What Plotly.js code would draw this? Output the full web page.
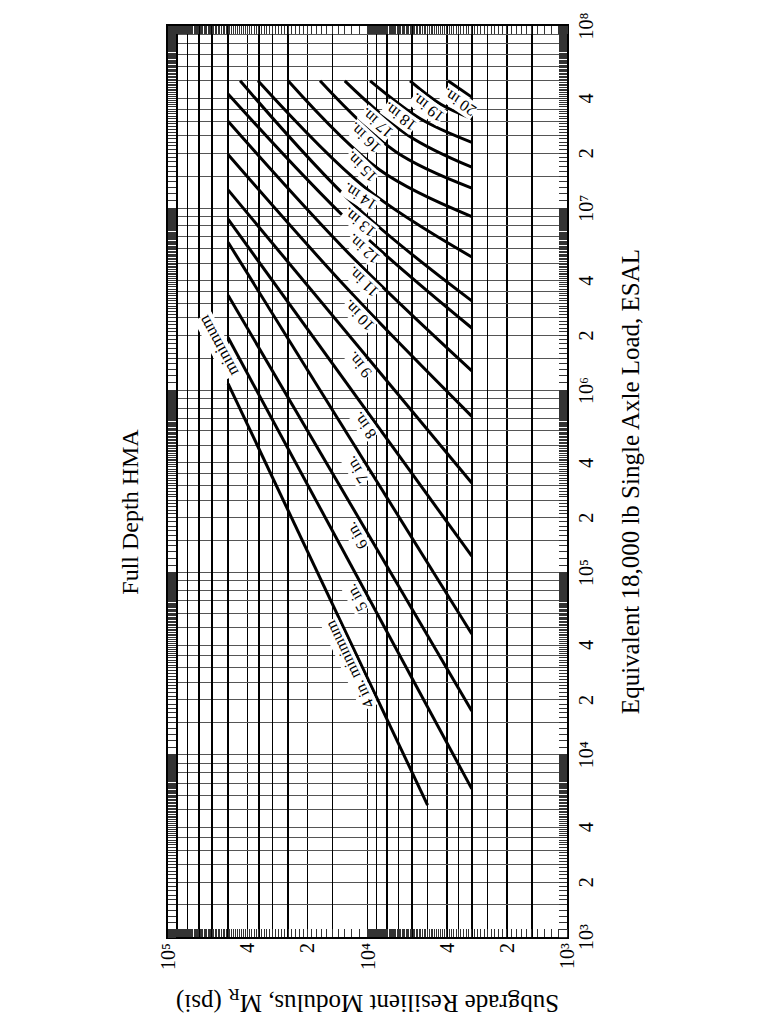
<!DOCTYPE html>
<html><head><meta charset="utf-8">
<script src="https://cdn.plot.ly/plotly-3.0.1.min.js"></script>
<style>
html,body{margin:0;padding:0;width:768px;height:1024px;overflow:hidden;background:#fff;}
#chart{position:absolute;left:0;top:0;width:1024px;height:768px;transform-origin:0 0;transform:translateY(1024px) rotate(-90deg);}
</style></head><body><div id="chart"></div>
<script>
// ---- data ----
const thicknessLabels = ["4 in. minimum","5 in.","6 in.","7 in.","8 in.","9 in.","10 in.","11 in.","12 in.","13 in.","14 in.","15 in.","16 in.","17 in.","18 in.","19 in.","20 in."];
// subgrade modulus (psi) along each thickness line (high-modulus end first)
const lineMR = [
  [50000,5000],[50000,3000],[50000,3000],[50000,3000],[50000,3000],[50000,3000],
  [50000,12340,3000],[50000,12340,3000],[50000,12340,3000],[43500,11450,3000],
  [35400,10320,3000],[25000,8677,3000],[17300,7215,3000],[13000,6245,3000],
  [9700,5405,3000],[6120,4291,3000],[3950,3000]
];
// ESAL along each thickness line (same order)
const lineESAL = [
  [1.09e6,5.3e3],[1.95e6,6.5e3],[3.33e6,1.74e4],[6.5e6,4.6e4],[8.7e6,1.23e5],[1.26e7,3.1e5],
  [1.97e7,3.52e6,7.2e5],[3.0e7,5.61e6,1.28e6],[4.23e7,8.41e6,2.2e6],[5e7,1.025e7,3.1e6],
  [5e7,1.30e7,5.4e6],[5e7,1.62e7,9e6],[5e7,2.04e7,1.29e7],[5e7,2.51e7,1.68e7],
  [5e7,3.09e7,2.3e7],[5e7,3.72e7,3.1e7],[5e7,4.07e7]
];
// modulus at which each label sits on its line
const labelMR = [11030,10170,10170,10170,9385,9940,10170,9717,9605,10170,10170,9829,9493,8265,6412,4642,3208];
const extraLabelText = "minimum";
const extraLabelMR = 56100;
const extraLabelESAL = 1.75e6;
// axis ticks
const gridMultipliers = [1,1.5,2,2.5,3,3.5,4,5,6,7,8,9];
const labeledMultipliers = [1,2,4];
const esalDecades = [3,4,5,6,7,8];
const mrDecades = [3,4,5];
const superDigits = {3:'\u00B3',4:'\u2074',5:'\u2075',6:'\u2076',7:'\u2077',8:'\u2078'};

// ---- layout geometry ----
const W = 1024, H = 768;
const M = {l:87, r:26, t:168, b:201};
const plotW = W - M.l - M.r, plotH = H - M.t - M.b;
const xRange = [3,8], yRange = [3,5];
const pxPerX = plotW/(xRange[1]-xRange[0]);
const pxPerY = plotH/(yRange[1]-yRange[0]);
const L = Math.log10;

function labeledTicks(decades){
  const vals=[], text=[];
  decades.forEach((d,i)=>{
    labeledMultipliers.forEach(m=>{
      if(i===decades.length-1 && m>1) return;
      vals.push(m*Math.pow(10,d));
      text.push(m===1 ? '10'+superDigits[d] : String(m));
    });
  });
  return {vals,text};
}
function plainGrid(decades){
  const v=[];
  decades.forEach((d,i)=>{
    if(i===decades.length-1) return;
    gridMultipliers.forEach(m=>{ if(labeledMultipliers.indexOf(m)<0) v.push(m*Math.pow(10,d)); });
  });
  return v;
}
function rulerTicks(decades){
  const v=[];
  for(let i=0;i<decades.length-1;i++){
    for(let k=10;k<100;k++){ v.push(k/10*Math.pow(10,decades[i])); }
  }
  v.push(Math.pow(10,decades[decades.length-1]));
  return v;
}
const xt = labeledTicks(esalDecades), yt = labeledTicks(mrDecades);

const traces = thicknessLabels.map((name,i)=>({
  type:'scatter', mode:'lines', name:name,
  x: lineESAL[i], y: lineMR[i],
  line:{color:'#000', width:3, shape: lineMR[i].length>2 ? 'spline' : 'linear', smoothing:1},
  hoverinfo:'skip', showlegend:false
}));
// carrier for the overlay grid axes (no marks)
traces.push({type:'scatter', mode:'lines', x:[], y:[], xaxis:'x2', yaxis:'y2', hoverinfo:'skip', showlegend:false});

// locate a point on line i at modulus mr (log-linear between read points) and its local angle
function pointOn(i, mr){
  const ex=lineESAL[i].map(L), my=lineMR[i].map(L), lm=L(mr);
  let k=0;
  while(k<my.length-2 && lm<my[k+1]) k++;
  const t=(lm-my[k+1])/(my[k]-my[k+1]);
  const le=ex[k+1]+t*(ex[k]-ex[k+1]);
  const ang=Math.atan2((my[k]-my[k+1])*pxPerY,(ex[k]-ex[k+1])*pxPerX);
  return {le, lm, ang};
}
const serif = 'Liberation Serif, Times New Roman, serif';
const annotations = thicknessLabels.map((txt,i)=>{
  const p=pointOn(i,labelMR[i]), d=11;
  return {x:p.le, y:p.lm, xref:'x', yref:'y',
    text:txt, showarrow:false, textangle:-p.ang*180/Math.PI,
    xshift:-d*Math.sin(p.ang), yshift:d*Math.cos(p.ang),
    font:{family:serif,size:16,color:'#000'}, bgcolor:'#fff', borderpad:0};
});
annotations.push({x:L(extraLabelESAL), y:L(extraLabelMR), xref:'x', yref:'y',
  text:extraLabelText, showarrow:false, textangle:-pointOn(1,40000).ang*180/Math.PI,
  font:{family:serif,size:17,color:'#000'}, bgcolor:'#fff', borderpad:0});

const tickFont = {family:serif,size:20,color:'#000'};
const layout = {
  width:W, height:H, margin:M, paper_bgcolor:'#fff', plot_bgcolor:'#fff',
  title:{text:'Full Depth HMA', font:{family:serif,size:24,color:'#000'}, x:0.5, xref:'container', y:1-130/768, yref:'container', yanchor:'middle'},
  xaxis: {
    type:'log', range:xRange, tickmode:'array', tickvals:xt.vals, ticktext:xt.text, tickfont:tickFont,
    showline:true, linewidth:2, linecolor:'#000', mirror:'ticks', ticks:'', zeroline:false,
    showgrid:true, gridcolor:'#555', gridwidth:1,
    minor:{tickmode:'array', tickvals:rulerTicks(esalDecades), ticks:'inside', ticklen:8, tickwidth:1, tickcolor:'#333', showgrid:false},
    title:{text:'Equivalent 18,000 lb Single Axle Load, ESAL', font:{family:serif,size:25,color:'#000'}, standoff:25}
  },
  yaxis: {
    type:'log', range:yRange, tickmode:'array', tickvals:yt.vals, ticktext:yt.text, tickfont:tickFont,
    showline:true, linewidth:2, linecolor:'#000', mirror:'ticks', ticks:'', zeroline:false,
    showgrid:true, gridcolor:'#000', gridwidth:1.6,
    minor:{tickmode:'array', tickvals:rulerTicks(mrDecades), ticks:'inside', ticklen:8, tickwidth:1, tickcolor:'#333', showgrid:false},
    title:{text:'Subgrade Resilient Modulus, M<sub>R</sub> (psi)', font:{family:serif,size:25,color:'#000'}, standoff:17}
  },
  xaxis2: {type:'log', range:xRange, overlaying:'x', anchor:'y2', side:'bottom', tickmode:'array', tickvals:plainGrid(esalDecades),
    showticklabels:false, ticks:'', showline:false, zeroline:false, showgrid:true, gridcolor:'#555', gridwidth:1},
  yaxis2: {type:'log', range:yRange, overlaying:'y', anchor:'x2', side:'left', tickmode:'array', tickvals:plainGrid(mrDecades),
    showticklabels:false, ticks:'', showline:false, zeroline:false, showgrid:true, gridcolor:'#000', gridwidth:1.6},
  annotations: annotations, showlegend:false
};
Plotly.newPlot('chart', traces, layout, {staticPlot:true, displayModeBar:false});
</script></body></html>
